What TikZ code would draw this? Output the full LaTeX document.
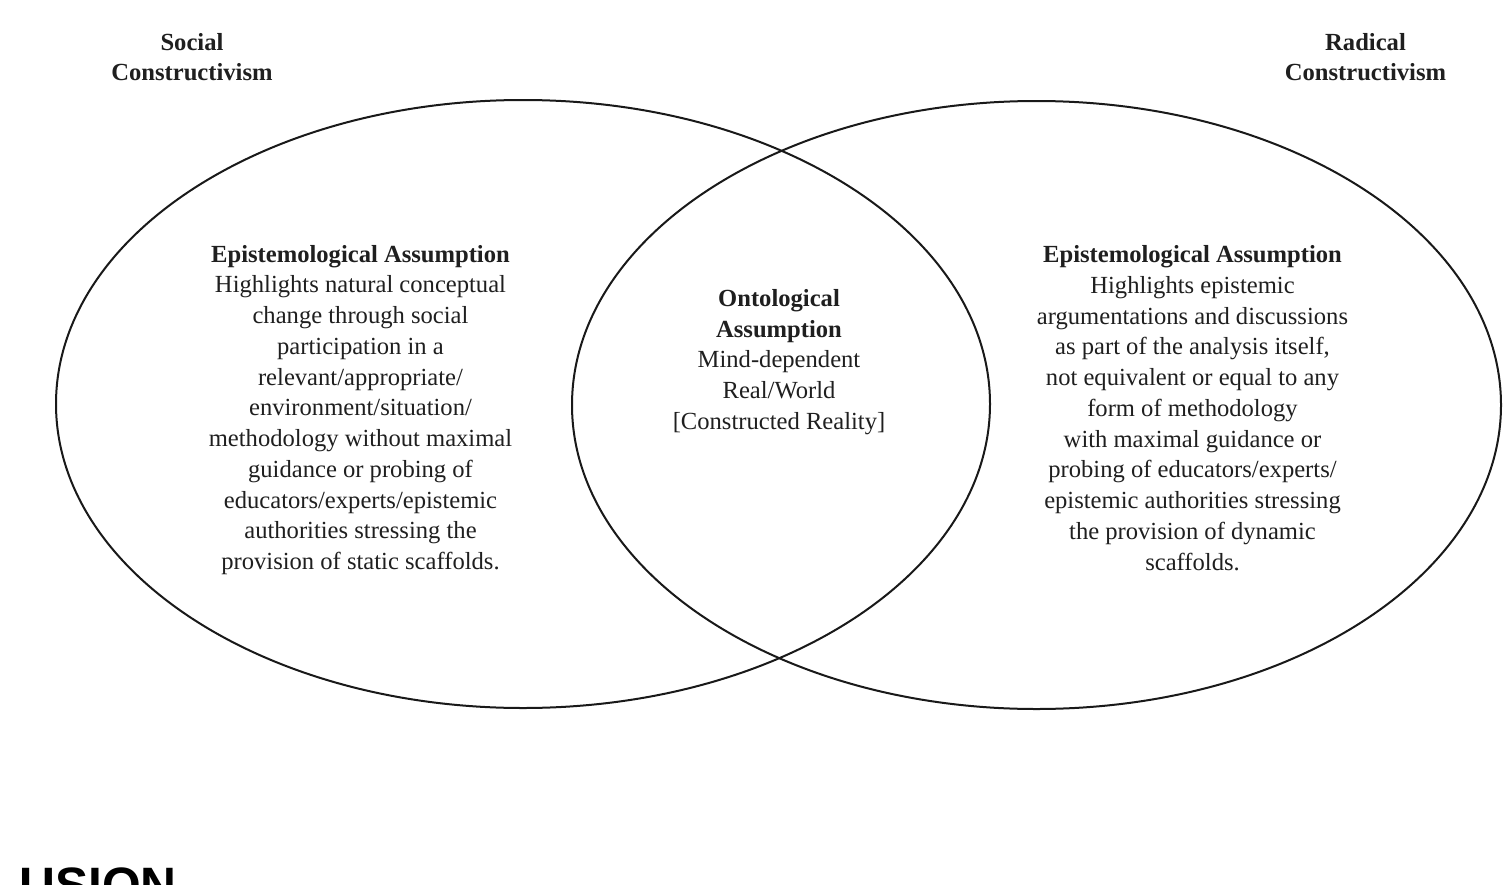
\documentclass[tikz,border=0pt]{standalone}
\usepackage{fontspec}
\setmainfont{Liberation Serif}
\newfontfamily\headfont{Liberation Sans}
\tikzset{
  venn/.style={draw=black!90,line width=1.5pt},
  para/.style={align=center,font=\fontsize{18.45}{23.05}\selectfont,text=black!88,inner sep=0pt},
}
\begin{document}
\begin{tikzpicture}[x=0.75pt,y=-0.75pt]
\useasboundingbox (0,0) rectangle (1506,885);
\fill[white] (0,0) rectangle (1506,885);
\draw[venn] (523,404) ellipse [x radius=467,y radius=304];
\draw[venn] (1036.5,405) ellipse [x radius=464.5,y radius=304];
\node[para] (sc) at (192,57) {\textbf{Social}\\\textbf{Constructivism}};
\node[para] (rc) at (1365.5,57) {\textbf{Radical}\\\textbf{Constructivism}};
\node[para] (left) at (360.5,410) {\textbf{Epistemological Assumption}\\Highlights natural conceptual\\change through social\\participation in a\\relevant/appropriate/\\environment/situation/\\methodology without maximal\\guidance or probing of\\educators/experts/epistemic\\authorities stressing the\\provision of static scaffolds.};
\node[para] (mid) at (779,362) {\textbf{Ontological}\\\textbf{Assumption}\\Mind-dependent\\Real/World\\{[Constructed Reality]}};
\node[para] (right) at (1192.5,408) {\textbf{Epistemological Assumption}\\Highlights epistemic\\argumentations and discussions\\as part of the analysis itself,\\not equivalent or equal to any\\form of methodology\\with maximal guidance or\\probing of educators/experts/\\epistemic authorities stressing\\the provision of dynamic\\scaffolds.};
\begin{scope}
\clip (0,0) rectangle (1506,885);
\node[anchor=base west,inner sep=0pt,font=\headfont\bfseries\fontsize{37.3}{40}\selectfont] (concl) at (19,902) {USION};
\end{scope}
\end{tikzpicture}
\end{document}
